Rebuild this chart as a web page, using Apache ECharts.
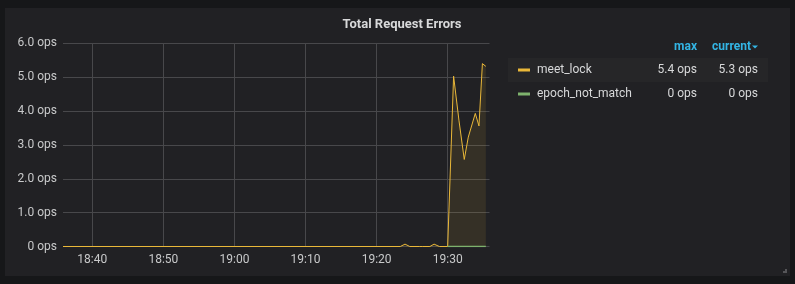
<!DOCTYPE html>
<html><head><meta charset="utf-8">
<script src="https://cdn.jsdelivr.net/npm/echarts@6/dist/echarts.min.js"></script>
<style>html,body{margin:0;padding:0;background:#161719;}#c{width:795px;height:284px;}</style>
</head><body><div id="c"></div>
<script>
const axisStart = '18:35:53';
const axisEnd = '19:35:53';
const xTicks = ['18:40','18:50','19:00','19:10','19:20','19:30'];
const yTicks = [0, 1, 2, 3, 4, 5, 6];
const meetLockTimes = ['18:35:53','19:23:20','19:24:00','19:24:40','19:26:00','19:26:15','19:26:30','19:27:30','19:28:05','19:28:50','19:30:00','19:30:50','19:31:35','19:32:20','19:32:54','19:33:53','19:34:24','19:34:53','19:35:22'];
const meetLockValues = [0,0,0.07,0,0,0.02,0,0,0.07,0,0,5.03,3.73,2.57,3.23,3.93,3.56,5.4,5.32];
const epochTimes = ['19:30:00','19:35:22'];
const epochValues = [0,0];
const seriesNames = ['meet_lock','epoch_not_match'];
const seriesColors = ['#eab839','#7eb26d'];

// seconds since midnight
function ts(s){const p=s.split(':').map(Number);return p[0]*3600+p[1]*60+(p[2]||0);}
function pairs(t,v){return t.map((x,i)=>[ts(x),v[i]]);}
function fmtOps(v){return v===0?'0 ops':v.toFixed(1)+' ops';}
function hhmm(v){const h=Math.floor(v/3600),m=Math.round((v-h*3600)/60);return String(h).padStart(2,'0')+':'+String(m).padStart(2,'0');}

const all = [meetLockValues, epochValues];
const font = 'Roboto, "Noto Sans", sans-serif';
const chart = echarts.init(document.getElementById('c'));
const tickVals = xTicks.map(ts);

const legendEls = [
  {type:'rect',shape:{x:5,y:8,width:785,height:268},style:{fill:'#212124'},z:-10,silent:true},
  {type:'rect',shape:{x:508,y:58,width:260,height:24},style:{fill:'#262628'},z:-9,silent:true},
  {type:'polygon',shape:{points:[[787,269],[787,273],[783,273],[783,271],[785,271],[785,269]]},style:{fill:'#555558'},silent:true},
  {type:'text',x:697,y:47,style:{text:'max',fill:'#33b5e5',font:'bold 12px '+font,align:'right',verticalAlign:'middle'}},
  {type:'text',x:751,y:47,style:{text:'current',fill:'#33b5e5',font:'bold 12px '+font,align:'right',verticalAlign:'middle'}},
  {type:'polygon',shape:{points:[[752,45.5],[758,45.5],[755,48.5]]},style:{fill:'#33b5e5'}}
];
seriesNames.forEach((n,i)=>{
  const y = 70 + i*24;
  const vals = all[i];
  legendEls.push({type:'rect',shape:{x:518,y:y-1.5,width:12,height:3},style:{fill:seriesColors[i]}});
  legendEls.push({type:'text',x:537,y:y,style:{text:n,fill:'#d8d9da',font:'12px '+font,align:'left',verticalAlign:'middle'}});
  legendEls.push({type:'text',x:697,y:y,style:{text:fmtOps(Math.max(...vals)),fill:'#d8d9da',font:'12px '+font,align:'right',verticalAlign:'middle'}});
  legendEls.push({type:'text',x:758,y:y,style:{text:fmtOps(vals[vals.length-1]),fill:'#d8d9da',font:'12px '+font,align:'right',verticalAlign:'middle'}});
});

chart.setOption({
  animation:false,
  backgroundColor:'transparent',
  title:{text:'Total Request Errors',left:397,textAlign:'center',top:13,textStyle:{color:'#d8d9da',fontSize:13,fontWeight:'bold',fontFamily:font}},
  grid:{left:63,right:305.5,top:43.3,bottom:37.5},
  xAxis:{type:'value',min:ts(axisStart),max:ts(axisEnd),
    axisLine:{show:false},axisTick:{show:false,customValues:tickVals},
    splitLine:{show:true,lineStyle:{color:'#48484b',width:1}},
    axisLabel:{color:'#c8c9ca',fontSize:12,fontFamily:font,margin:7,customValues:tickVals,
      formatter:v=>hhmm(v)}},
  yAxis:{type:'value',min:yTicks[0],max:yTicks[yTicks.length-1],interval:1,
    axisLine:{show:false},axisTick:{show:false},
    splitLine:{lineStyle:{color:'#48484b',width:1}},
    axisLabel:{color:'#c8c9ca',fontSize:12,fontFamily:font,margin:6,formatter:v=>fmtOps(v)}},
  series:[
    {name:seriesNames[0],type:'line',data:pairs(meetLockTimes,meetLockValues),showSymbol:false,
      lineStyle:{color:seriesColors[0],width:1},itemStyle:{color:seriesColors[0]},areaStyle:{color:seriesColors[0],opacity:0.1}},
    {name:seriesNames[1],type:'line',data:pairs(epochTimes,epochValues),showSymbol:false,
      lineStyle:{color:seriesColors[1],width:1.5},itemStyle:{color:seriesColors[1]},areaStyle:{color:seriesColors[1],opacity:0.1}}
  ],
  graphic:legendEls
});
</script></body></html>
